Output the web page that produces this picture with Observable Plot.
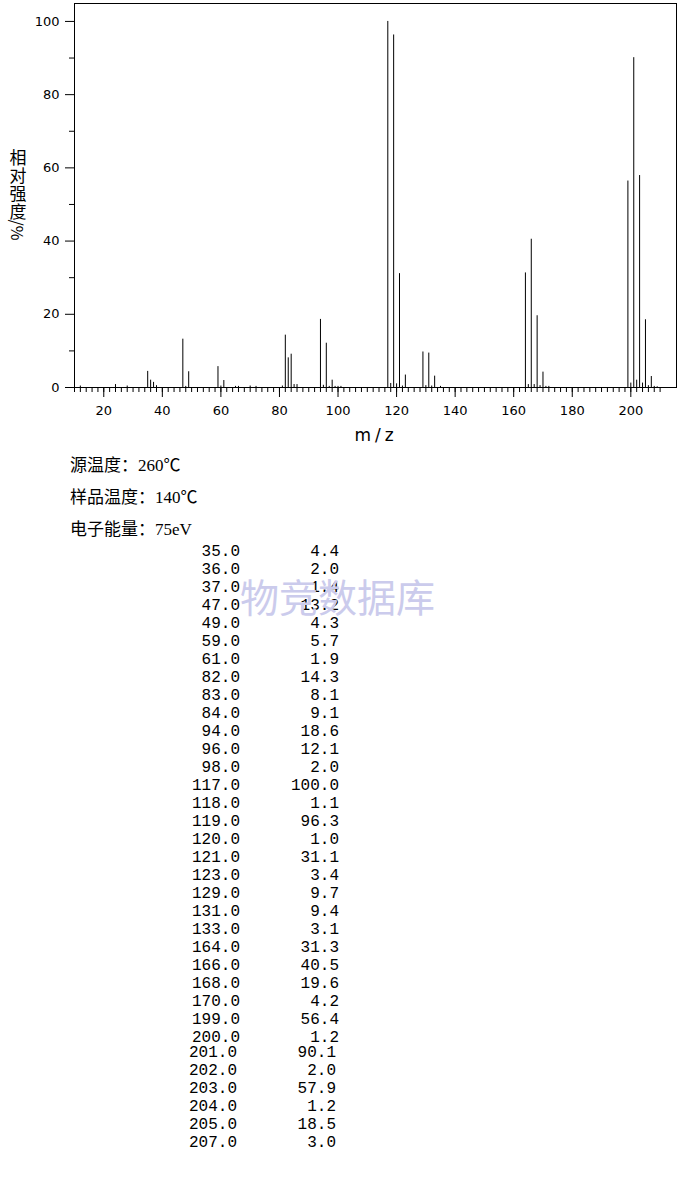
<!DOCTYPE html>
<html><head><meta charset="utf-8">
<script src="https://cdn.jsdelivr.net/npm/d3@7"></script>
<script src="https://cdn.jsdelivr.net/npm/@observablehq/plot@0.6"></script>
<style>
html,body{margin:0;padding:0;background:#fff;}
#wrap{position:relative;width:680px;height:1191px;overflow:hidden;background:#fff;}
#wrap svg{position:absolute;left:0;top:0;}
.ych{position:absolute;left:8px;width:20px;text-align:center;font-family:"Noto Sans CJK SC",sans-serif;font-size:17px;line-height:18px;color:#000;}
.yrot{position:absolute;left:18px;top:230px;font-family:"Noto Sans CJK SC",sans-serif;font-size:16px;line-height:18px;color:#000;white-space:nowrap;transform:translate(-50%,-50%) rotate(90deg);}
.xlab{position:absolute;left:324px;width:104px;top:424px;text-align:center;font-family:"DejaVu Sans",sans-serif;font-size:17px;letter-spacing:4px;color:#000;line-height:22px;}
.info{position:absolute;left:70px;font-family:"Liberation Serif","Noto Sans CJK SC",serif;font-size:17px;line-height:20px;color:#000;white-space:nowrap;}
.row{position:absolute;left:0;height:18px;font-family:"Liberation Mono",monospace;font-size:16px;line-height:18px;color:#000;white-space:pre;}
.wm{position:absolute;left:240px;top:576px;font-family:"Noto Sans CJK SC",sans-serif;font-size:39px;line-height:39px;color:#cbcbec;white-space:nowrap;}
</style></head><body><div id="wrap"></div>
<script>
// Peaks listed in the table
const listedMz = [35,36,37,47,49,59,61,82,83,84,94,96,98,117,118,119,120,121,123,129,131,133,164,166,168,170,199,200,201,202,203,204,205,207];
const listedIntensity = [4.4,2.0,1.4,13.2,4.3,5.7,1.9,14.3,8.1,9.1,18.6,12.1,2.0,100.0,1.1,96.3,1.0,31.1,3.4,9.7,9.4,3.1,31.3,40.5,19.6,4.2,56.4,1.2,90.1,2.0,57.9,1.2,18.5,3.0];
// Small peaks (<1%) visible in the spectrum only
const minorMz = [12,24,28,38,48,60,65,66,70,72,81,85,86,95,97,99,100,101,122,130,132,135,165,167,169,171,172,206,208,209];
const minorIntensity = [0.4,0.8,0.4,0.5,0.3,0.4,0.3,0.3,0.4,0.3,0.4,0.8,0.8,0.6,0.3,0.3,0.3,0.3,0.4,0.5,0.4,0.3,0.8,0.8,0.5,0.3,0.3,0.5,0.3,0.2];
// Tick values
const xMajorTicks = [20,40,60,80,100,120,140,160,180,200];
const xMinorTicks = d3.range(10, 211, 2);
const yMajorTicks = [0,20,40,60,80,100];
const yMinorTicks = [10,30,50,70,90];
// Texts
const yLabelChars = ["相", "对", "强", "度"];
const yLabelUnit = "/%";
const xLabel = "m/z";
const infoLines = ["源温度：260℃", "样品温度：140℃", "电子能量：75eV"];
const watermark = "物竞数据库";

const peaks = listedMz.map((m, i) => ({mz: m, v: listedIntensity[i]}))
  .concat(minorMz.map((m, i) => ({mz: m, v: minorIntensity[i]})));

const blank = () => "";
const chart = Plot.plot({
  width: 680, height: 450,
  marginLeft: 74, marginRight: 4, marginTop: 3, marginBottom: 63,
  x: {domain: [10, 215.6]},
  y: {domain: [0, 104.9]},
  style: {fontFamily: "DejaVu Sans, sans-serif", fontSize: "13px", color: "#000", background: "#fff"},
  marks: [
    Plot.ruleX(peaks, {x: "mz", y1: 0, y2: "v", stroke: "#000", strokeWidth: 1}),
    Plot.axisX({ticks: xMinorTicks, tickSize: 5, tickFormat: blank, label: null, stroke: "#000"}),
    Plot.axisX({ticks: xMajorTicks, tickSize: 10, tickPadding: 8, label: null, stroke: "#000", fill: "#000"}),
    Plot.axisY({ticks: yMinorTicks, tickSize: 5, tickFormat: blank, label: null, stroke: "#000"}),
    Plot.axisY({ticks: yMajorTicks, tickSize: 9, tickPadding: 6, label: null, stroke: "#000", fill: "#000"}),
    Plot.frame({stroke: "#000", strokeWidth: 1})
  ]
});

const wrap = document.getElementById("wrap");
wrap.appendChild(chart);

yLabelChars.forEach((c, i) => {
  const d = document.createElement("div");
  d.className = "ych";
  d.style.top = (148 + 18 * i) + "px";
  d.textContent = c;
  wrap.appendChild(d);
});
const yu = document.createElement("div");
yu.className = "yrot"; yu.textContent = yLabelUnit; wrap.appendChild(yu);

const xl = document.createElement("div");
xl.className = "xlab"; xl.textContent = xLabel; wrap.appendChild(xl);

infoLines.forEach((t, i) => {
  const d = document.createElement("div");
  d.className = "info";
  d.style.top = (456 + 32 * i) + "px";
  d.textContent = t;
  wrap.appendChild(d);
});

// data table: two blocks (first 28 rows, then the rest slightly shifted)
listedMz.forEach((m, i) => {
  const second = i >= 28;
  const center = second ? 1053 + 18 * (i - 28) : 552 + 18 * i;
  const shift = second ? -3 : 0;
  const r1 = document.createElement("div");
  r1.className = "row";
  r1.style.top = (center - 9) + "px";
  r1.style.width = (240 + shift) + "px";
  r1.style.textAlign = "right";
  r1.textContent = m.toFixed(1);
  wrap.appendChild(r1);
  const r2 = document.createElement("div");
  r2.className = "row";
  r2.style.top = (center - 9) + "px";
  r2.style.width = (339 + shift) + "px";
  r2.style.textAlign = "right";
  r2.textContent = listedIntensity[i].toFixed(1);
  wrap.appendChild(r2);
});

const wm = document.createElement("div");
wm.className = "wm"; wm.textContent = watermark; wrap.appendChild(wm);
</script>
</body></html>
